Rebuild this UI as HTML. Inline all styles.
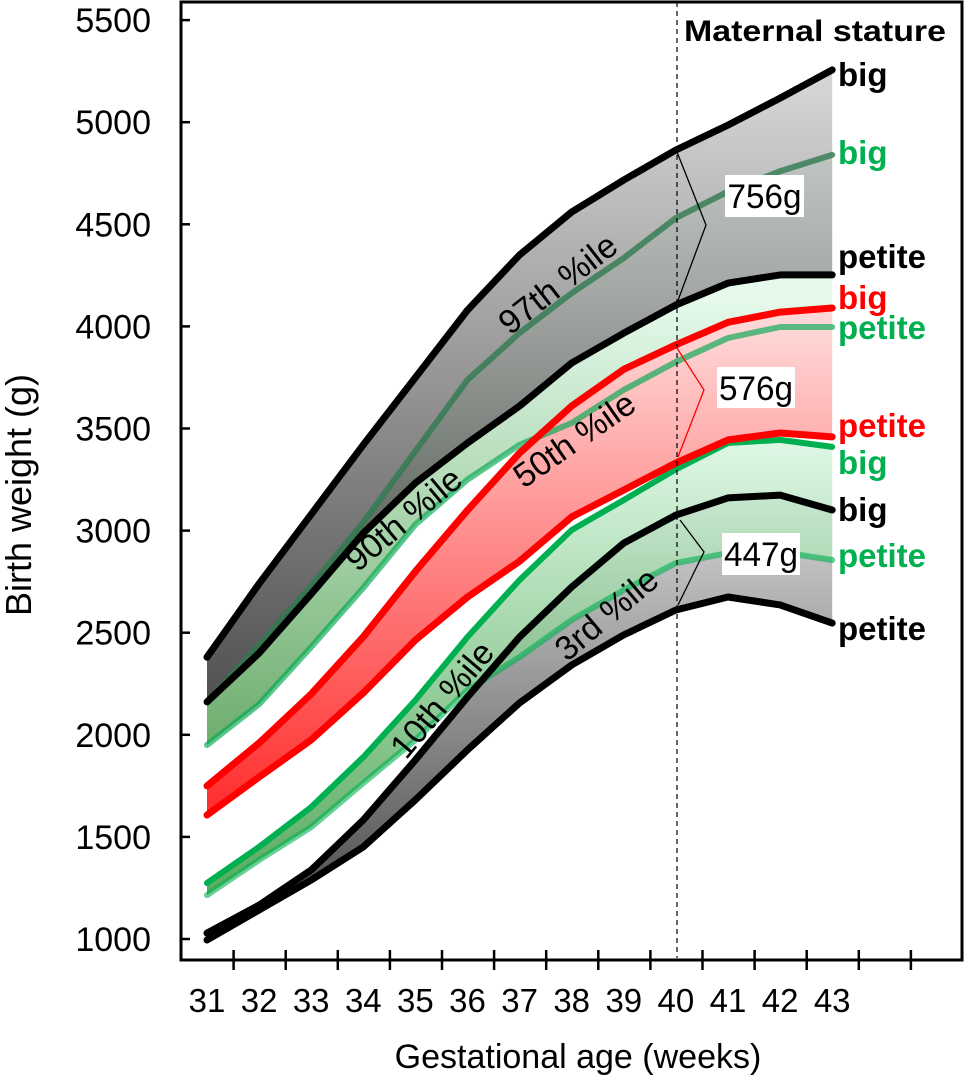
<!DOCTYPE html>
<html><head><meta charset="utf-8"><style>
html,body{margin:0;padding:0;background:#fff;}
svg{display:block;font-family:"Liberation Sans",Arial,sans-serif;}
</style></head><body>
<svg id="chart" width="971" height="1082" viewBox="0 0 971 1082" xmlns="http://www.w3.org/2000/svg">
<defs>
<linearGradient id="g97" gradientUnits="userSpaceOnUse" x1="0" y1="60" x2="0" y2="700"><stop offset="0" stop-color="#d2d2d2"/><stop offset="1" stop-color="#2a2a2a"/></linearGradient>
<linearGradient id="g3" gradientUnits="userSpaceOnUse" x1="0" y1="500" x2="0" y2="950"><stop offset="0" stop-color="#d4d4d4"/><stop offset="1" stop-color="#404040"/></linearGradient>
<linearGradient id="g90" gradientUnits="userSpaceOnUse" x1="0" y1="300" x2="0" y2="780"><stop offset="0" stop-color="#dcf8e4"/><stop offset="1" stop-color="#2f8a2f"/></linearGradient>
<linearGradient id="g10" gradientUnits="userSpaceOnUse" x1="0" y1="430" x2="0" y2="900"><stop offset="0" stop-color="#dcf8e4"/><stop offset="1" stop-color="#3a9a40"/></linearGradient>
<linearGradient id="g50" gradientUnits="userSpaceOnUse" x1="0" y1="330" x2="0" y2="820"><stop offset="0" stop-color="#ffd6d6"/><stop offset="1" stop-color="#ff2a2a"/></linearGradient>
</defs>
<g id="fills"></g>
<g id="lines"></g>
<g id="axes"></g>
</svg>
<script>
const weeks=[31,32,33,34,35,36,37,38,39,40,41,42,43];
const p97big=[2380,2740,3080,3420,3750,4080,4350,4560,4717,4864,4986,5118,5256];
const p97petite=[2161,2400,2690,2988,3233,3429,3610,3821,3967,4105,4212,4252,4252];
const p90big=[2160,2440,2730,3040,3390,3738,3968,4163,4335,4531,4660,4760,4840];
const p90petite=[1950,2150,2430,2720,3030,3250,3420,3527,3689,3826,3943,3997,3997];
const p50big=[1750,1960,2200,2480,2800,3100,3380,3610,3790,3910,4020,4070,4090];
const p50petite=[1607,1793,1975,2205,2464,2675,2850,3067,3199,3331,3444,3478,3459];
const p10big=[1274,1451,1646,1891,2170,2479,2758,3003,3150,3300,3429,3444,3410];
const p10petite=[1215,1387,1548,1764,1975,2219,2381,2562,2709,2841,2890,2895,2856];
const p3big=[1029,1166,1338,1583,1877,2185,2479,2724,2939,3076,3160,3174,3101];
const p3petite=[995,1142,1289,1451,1681,1926,2156,2342,2489,2611,2675,2636,2547];
const yTicks=[1000,1500,2000,2500,3000,3500,4000,4500,5000,5500];
const xTickLabels=[31,32,33,34,35,36,37,38,39,40,41,42,43];

const NS="http://www.w3.org/2000/svg";
function X(w){return 207+(w-31)*52.1;}
function Y(v){return 939-(v-1000)*0.2042;}
function mk(tag,attrs,parent){const e=document.createElementNS(NS,tag);for(const k in attrs)e.setAttribute(k,attrs[k]);parent.appendChild(e);return e;}
function pts(arr){return arr.map((v,i)=>X(weeks[i]).toFixed(1)+","+Y(v).toFixed(1));}
const fills=document.getElementById('fills'),lines=document.getElementById('lines'),axes=document.getElementById('axes');

function band(top,bot,fill,op,name){
  const p=pts(top).concat(pts(bot).reverse());
  const e=mk('polygon',{points:p.join(' '),fill:fill,'fill-opacity':op},fills);
  
  
}
band(p90big,p90petite,'url(#g90)',0.75,'band-90th');
band(p97big,p97petite,'url(#g97)',0.82,'band-97th');
band(p3big,p3petite,'url(#g3)',1,'band-3rd');
band(p10big,p10petite,'url(#g10)',0.85,'band-10th');
band(p50big,p50petite,'url(#g50)',1,'band-50th');

function line(arr,color,w,op,name){
  const e=mk('polyline',{points:pts(arr).join(' '),fill:'none',stroke:color,'stroke-width':w,'stroke-opacity':op,'stroke-linejoin':'round','stroke-linecap':'round'},lines);
  
  
}
line(p90big,'#2f7a50',6,0.8,'line-90th-big');
line(p90petite,'#00a850',6,0.65,'line-90th-petite');
line(p10big,'#00b050',6,1,'line-10th-big');
line(p10petite,'#00b050',6,0.6,'line-10th-petite');
line(p97big,'#000',7,1,'line-97th-big');
line(p97petite,'#000',7,1,'line-97th-petite');
line(p3big,'#000',7,1,'line-3rd-big');
line(p3petite,'#000',7,1,'line-3rd-petite');
line(p50big,'#ff0000',7,1,'line-50th-big');
line(p50petite,'#ff0000',7,1,'line-50th-petite');

let e;
e=mk('rect',{x:181,y:2,width:781,height:958,fill:'none',stroke:'#000','stroke-width':3},axes);


e=mk('line',{x1:677,y1:2,x2:677,y2:958,stroke:'#000','stroke-width':1.2,'stroke-dasharray':'5,4'},axes);


yTicks.forEach(v=>{
  mk('line',{x1:181,y1:Y(v),x2:190,y2:Y(v),stroke:'#000','stroke-width':2.5},axes);
  const t=mk('text',{x:151,y:Y(v)+12,'text-anchor':'end','font-size':34},axes);
  t.textContent=v;
  
  
});
for(let k=0;k<14;k++){const x=233.6+52.1*k;mk('line',{x1:x,y1:950,x2:x,y2:970,stroke:'#000','stroke-width':2.5},axes);}
xTickLabels.forEach(w=>{
  const t=mk('text',{x:X(w),y:1012,'text-anchor':'middle','font-size':33},axes);
  t.textContent=w;
  
  
});
</script>
<svg style="position:absolute;left:0;top:0" width="971" height="1082" xmlns="http://www.w3.org/2000/svg" font-family="Liberation Sans, Arial, sans-serif">
<text x="578" y="1068" text-anchor="middle" font-size="34">Gestational age (weeks)</text>
<text transform="translate(31,495) rotate(-90)" text-anchor="middle" font-size="36">Birth weight (g)</text>
<text x="684" y="41" font-size="30" font-weight="bold" textLength="262" lengthAdjust="spacingAndGlyphs">Maternal stature</text>
<g font-size="33" font-weight="bold">
<text x="838" y="86" fill="#000">big</text>
<text x="838" y="164" fill="#00b050">big</text>
<text x="838" y="268" fill="#000">petite</text>
<text x="838" y="309" fill="#ff0000">big</text>
<text x="838" y="339" fill="#00b050">petite</text>
<text x="838" y="437" fill="#ff0000">petite</text>
<text x="838" y="474" fill="#00b050">big</text>
<text x="838" y="521" fill="#000">big</text>
<text x="838" y="567" fill="#00b050">petite</text>
<text x="838" y="640" fill="#000">petite</text>
</g>
<g font-size="34" fill="#000">
<text transform="translate(565,293) rotate(-38)" text-anchor="middle">97th %ile</text>
<text transform="translate(411,528) rotate(-40)" text-anchor="middle">90th %ile</text>
<text transform="translate(581,449) rotate(-35)" text-anchor="middle">50th %ile</text>
<text transform="translate(451,707) rotate(-50)" text-anchor="middle">10th %ile</text>
<text transform="translate(614,623) rotate(-40)" text-anchor="middle">3rd %ile</text>
</g>
<polyline points="677,152 706,225 677,303" fill="none" stroke="#000" stroke-width="1.3"/>
<polyline points="675,345 704,390 678,457" fill="none" stroke="#ff0000" stroke-width="1.3"/>
<polyline points="680,520 704,552 678,605" fill="none" stroke="#000" stroke-width="1.3"/>
<rect x="725" y="175" width="79" height="42" fill="#fff"/>
<text x="764.5" y="208" text-anchor="middle" font-size="34" textLength="74" lengthAdjust="spacingAndGlyphs">756g</text>
<rect x="717" y="367" width="78" height="41" fill="#fff"/>
<text x="756" y="400" text-anchor="middle" font-size="34" textLength="74" lengthAdjust="spacingAndGlyphs">576g</text>
<rect x="722" y="533" width="78" height="42" fill="#fff"/>
<text x="761" y="566" text-anchor="middle" font-size="34" textLength="74" lengthAdjust="spacingAndGlyphs">447g</text>
</svg>
</body></html>
